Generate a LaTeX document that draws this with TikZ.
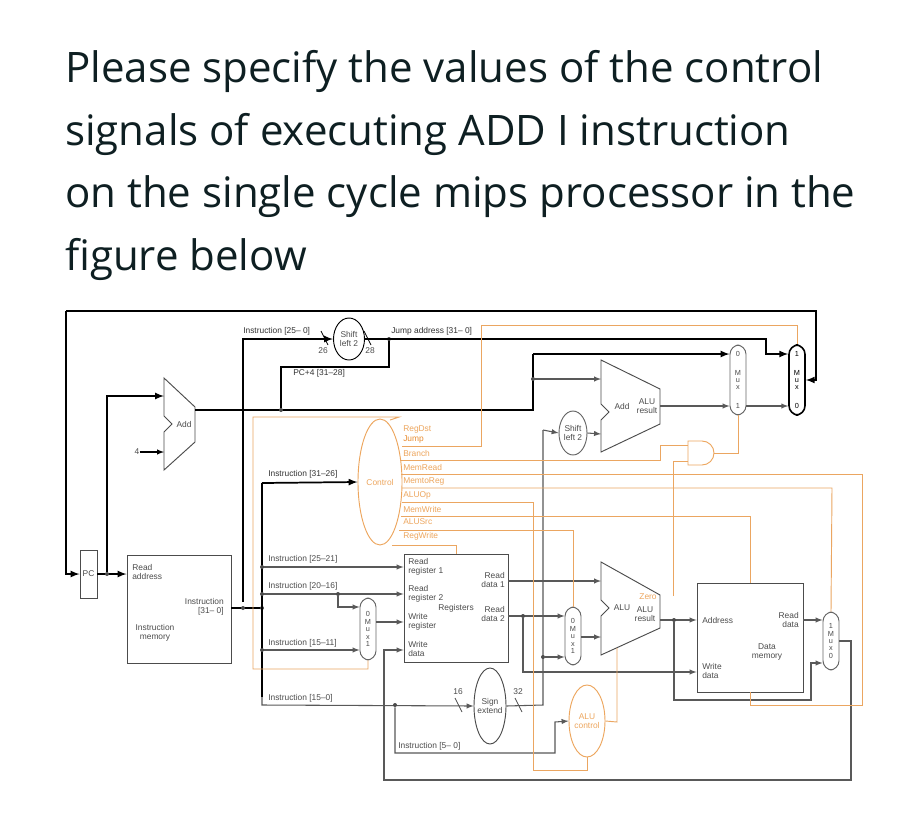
\documentclass[tikz,border=0pt]{standalone}
\usepackage{fontspec}
\usetikzlibrary{shapes.geometric}
\setmainfont{Liberation Sans}
\newfontfamily\titlefont{Open Sans}
\definecolor{titlecol}{HTML}{0E1F22}
\begin{document}
\begin{tikzpicture}[x=0.75pt,y=-0.75pt,
  gl/.style={draw=black!65,line width=0.8pt},
  bl/.style={draw=black,line width=1.3pt},
  ol/.style={draw=orange!55!brown!70,line width=0.7pt},
  ar/.style={-latex},
  lab/.style={font=\fontsize{6.3}{6.8}\selectfont,text=black!70,inner sep=0pt},
  olab/.style={font=\fontsize{6.3}{6.8}\selectfont,text=orange!60!brown!70,inner sep=0pt,anchor=west},
  box/.style={draw=black!70,line width=0.7pt},
  muxbox/.style={draw=black!60,rounded corners=7pt,line width=0.7pt},
  dot/.style={circle,fill=black!70,inner sep=0pt,minimum size=3pt}]
\useasboundingbox (0,0) rectangle (914,818);
\fill[white] (0,0) rectangle (914,818);
% title
\begin{scope}[every node/.style={anchor=base west,inner sep=0pt,font=\titlefont\fontsize{31.5}{34}\selectfont,text=titlecol}]
\node (t1) at (65,82) {Please specify the values of the control};
\node (t2) at (65,145) {signals of executing ADD I instruction};
\node (t3) at (65,207) {on the single cycle mips processor in the};
\node (t4) at (65,270) {figure below};
\end{scope}
% ---- shapes
\node[box,minimum width=17*0.75pt,minimum height=48*0.75pt,inner sep=0pt] (pc) at (88.5,574) {};
\node[lab] at (pc) {PC};
\node[box,minimum width=104*0.75pt,minimum height=108*0.75pt] (imem) at (179,609) {};
\node[lab,anchor=north west,align=left] at (132,564) {Read\\address};
\node[lab,align=right,anchor=east] at (224,607) {Instruction\\{}[31-- 0]};
\node[lab,align=center] at (155,633) {Instruction\\memory};
\draw[box] (164,378) -- (195,407) -- (195,442) -- (164,470) -- (164,432) -- (172,424) -- (164,416) -- cycle;
\node[lab] (addpc) at (184,424) {Add};
\node[lab] (four) at (137,452) {4};
\draw[gl,draw=black,ar] (four) -- (164,452);
\node[draw=black,line width=0.7pt,ellipse,minimum width=31*0.75pt,minimum height=42*0.75pt,inner sep=0pt] (sl1) at (349,339) {};
\node[lab,align=center] at (sl1) {Shift\\left 2};
\node[draw=orange!60!brown!70,line width=0.7pt,ellipse,minimum width=44*0.75pt,minimum height=126*0.75pt,inner sep=0pt] (ctrl) at (380,482) {};
\node[lab,text=orange!60!brown!70] at (ctrl) {Control};
\node[box,minimum width=104*0.75pt,minimum height=108*0.75pt] (regs) at (456,608) {};
\node[lab,anchor=north west,align=left] at (408,558) {Read\\register 1};
\node[lab,anchor=north west,align=left] at (408,585) {Read\\register 2};
\node[lab,anchor=north west,align=left] at (408,613) {Write\\register};
\node[lab,anchor=north west,align=left] at (408,641) {Write\\data};
\node[lab,anchor=north east,align=right] at (505,572) {Read\\data 1};
\node[lab,anchor=north east,align=right] at (505,606) {Read\\data 2};
\node[lab] at (456,608) {Registers};
\node[draw=black!70,line width=0.7pt,ellipse,minimum width=32*0.75pt,minimum height=76*0.75pt,inner sep=0pt] (sext) at (490,706) {};
\node[lab,align=center] at (sext) {Sign\\extend};
\node[draw=orange!60!brown!70,line width=0.7pt,ellipse,minimum width=36*0.75pt,minimum height=72*0.75pt,inner sep=0pt] (aluc) at (587,721) {};
\node[lab,align=center,text=orange!60!brown!70] at (aluc) {ALU\\control};
\node[draw=black!60,line width=0.7pt,ellipse,minimum width=28*0.75pt,minimum height=44*0.75pt,inner sep=0pt] (sl2) at (573,433) {};
\node[lab,align=center] at (sl2) {Shift\\left 2};
% branch adder
\draw[box] (601,360) -- (660,389) -- (660,424) -- (601,452) -- (601,420) -- (609,412) -- (601,404) -- cycle;
\node[lab] at (622,406) {Add};
\node[lab,align=center] at (647,406) {ALU\\result};
% ALU
\draw[box] (601,562) -- (660,595) -- (660,628) -- (601,655) -- (601,616) -- (609,608) -- (601,600) -- cycle;
\node[lab] at (622,608) {ALU};
\node[lab,align=center] at (645,614) {ALU\\result};
\node[lab,text=orange!60!brown!70] at (648,597) {Zero};
% data memory
\node[box,minimum width=106*0.75pt,minimum height=109*0.75pt] (dmem) at (750,637.5) {};
\node[lab,anchor=west] at (702,620) {Address};
\node[lab,anchor=north east,align=right] at (799,612) {Read\\data};
\node[lab,align=center] at (767,652) {Data\\memory};
\node[lab,anchor=north west,align=left] at (702,663) {Write\\data};
% AND gate
\draw[draw=orange!60!brown!70,line width=0.7pt] (688,441) -- (702,441) arc (-90:90:12) -- (688,465) -- cycle;
\coordinate (andout) at (714,453);
% muxes
\newcommand{\mymux}[5]{% name, cx, cy, h, color
\node[muxbox,draw=#5,minimum width=16*0.75pt,minimum height=#4*0.75pt,inner sep=0pt] (#1) at (#2,#3) {};}
\mymux{mrd}{368}{629}{62}{black!60}
\mymux{mals}{573}{636}{58}{black!60}
\mymux{mmr}{831}{641}{58}{black!60}
\mymux{mb}{738}{380}{70}{black!60}
\node[muxbox,draw=black,line width=1.2pt,minimum width=16*0.75pt,minimum height=70*0.75pt,inner sep=0pt] (mj) at (797,380) {};
\begin{scope}[every node/.style={lab,font=\fontsize{5.5}{5.6}\selectfont}]
\node[align=center] at (mrd) {0\\M\\u\\x\\1};
\node[align=center] at (mals) {0\\M\\u\\x\\1};
\node[align=center] at (mmr) {1\\M\\u\\x\\0};
\node at (738,354) {0};\node[align=center] at (738,380) {M\\u\\x};\node at (738,406) {1};
\node[text=black] at (797,354) {1};\node[text=black,align=center] at (797,380) {M\\u\\x};\node[text=black] at (797,406) {0};
\end{scope}
% ---- black datapath
\draw[bl,ar] (pc.east) -- (imem.west|-pc.east);
\draw[bl,ar] (66,311) -- (816,311) -- (816,380) -- (mj.east|-0,380);
\draw[bl,ar] (66,311) -- (66,574) -- (pc.west);
\node[dot] (j1) at (107,574) {};
\draw[bl,ar] (j1) -- (107,396) -- (164,396);
\draw[bl] (195,410) -- (533,410) -- (533,354);
\draw[bl,ar] (533,354) -- (mb.west|-0,354);
\node[dot] (j2) at (281,410) {};
\draw[bl] (j2) -- (281,367) -- (389,367) -- (389,339);
\node[dot] (j3) at (389,339) {};
\draw[bl,ar] (sl1.east) -- (766,339) -- (766,354) -- (mj.west|-0,354);
\draw[bl,ar] (243,602) -- (243,339) -- (sl1.west);
\draw[bl] (imem.east|-0,608) -- (262,608);
\node[dot] at (243,608) {};
\node[dot] at (262,608) {};
\draw[bl] (262,697) -- (262,483);
\draw[bl,ar] (262,483) -- (ctrl.west);
\draw[black,line width=0.6pt] (321,331) -- (328,345) (364,331) -- (371,345);
\node[lab] at (323,351) {26};\node[lab] at (370,351) {28};
\node[lab,anchor=south west,text=black!80] at (243,336) {Instruction [25-- 0]};
\node[lab,anchor=south west,text=black!80] at (391,336) {Jump address [31-- 0]};
\node[lab,anchor=south west,text=black!80] at (293,378) {PC+4 [31--28]};
\node[lab,anchor=south west,text=black!80] at (268,479) {Instruction [31--26]};
% ---- gray datapath
\node[dot] at (533,379) {};
\draw[gl,ar] (533,379) -- (601,379);
\draw[gl,ar] (sl2.east) -- (601,434);
\draw[gl,ar] (660,406) -- (mb.west|-0,406);
\draw[gl,ar] (mb.east|-0,406) -- (mj.west|-0,406);
\draw[gl,ar] (262,567) -- (regs.west|-0,567);
\draw[gl,ar] (262,594) -- (regs.west|-0,594);
\node[dot] at (262,567) {};\node[dot] at (262,594) {};
\node[dot] (j4) at (338,594) {};
\draw[gl,ar] (j4) -- (338,607) -- (mrd.west|-0,607);
\draw[gl,ar] (262,650) -- (mrd.west|-0,650);
\node[dot] at (262,650) {};
\draw[gl,ar] (mrd.east|-0,622) -- (regs.west|-0,622);
\draw[gl,ar] (262,697) -- (262,705) -- (sext.west);
\node[lab,anchor=south west] at (268,564) {Instruction [25--21]};
\node[lab,anchor=south west] at (268,591) {Instruction [20--16]};
\node[lab,anchor=south west] at (268,647) {Instruction [15--11]};
\node[lab,anchor=south west] at (268,702) {Instruction [15--0]};
\draw[black!70,line width=0.6pt] (455,698) -- (462,712) (515,698) -- (522,712);
\node[lab] at (458,692) {16};\node[lab] at (518,692) {32};
\node[dot] (j5) at (395,705) {};
\draw[gl,ar] (j5) -- (395,753) -- (555,753) -- (555,722) -- (aluc.west);
\node[lab,anchor=south west] at (398,750) {Instruction [5-- 0]};
\draw[gl] (sext.east) -- (543,705) -- (543,430);
\draw[gl,ar] (543,430) -- (sl2.west);
\node[dot] (j6) at (543,657) {};
\draw[gl,ar] (j6) -- (mals.west|-0,657);
\draw[gl,ar] (regs.east|-0,581) -- (601,581);
\draw[gl,ar] (regs.east|-0,616) -- (mals.west|-0,616);
\node[dot] (j7) at (523,616) {};
\draw[gl,ar] (j7) -- (523,672) -- (dmem.west|-0,672);
\draw[gl,ar] (mals.east|-0,637) -- (601,637);
\draw[gl,ar] (660,620) -- (dmem.west|-0,620);
\node[dot] (j8) at (674,620) {};
\draw[gl,ar] (j8) -- (674,700) -- (811,700) -- (811,663) -- (mmr.west|-0,663);
\draw[gl,ar] (dmem.east|-0,620) -- (mmr.west|-0,620);
\draw[gl,ar] (mmr.east|-0,641) -- (851,641) -- (851,780) -- (384,780) -- (384,650) -- (regs.west|-0,650);
% ---- orange control
\begin{scope}[every node/.style={olab}]
\node at (403,429) {RegDst};\node[text=orange!60!brown!90] at (403,439) {Jump};\node at (403,453) {Branch};
\node at (403,467) {MemRead};\node at (403,481) {MemtoReg};\node at (403,495) {ALUOp};
\node at (403,509) {MemWrite};\node at (403,522) {ALUSrc};\node at (403,536) {RegWrite};
\end{scope}
\draw[ol] (390,420) -- (399,417) -- (253,417) -- (253,669) -- (368,669) -- (mrd.south);
\draw[ol] (ctrl.east|-0,446) -- (481,446) -- (481,325) -- (797,325) -- (mj.north);
\draw[ol] (401,460) -- (660,460) -- (660,445) -- (688,445);
\draw[ol] (673,596) -- (673,461) -- (688,461);
\draw[ol] (andout) -- (738,453) -- (mb.south);
\draw[ol] (401,474) -- (862,474) -- (862,705) -- (750,705) -- (dmem.south);
\draw[ol] (402,488) -- (832,488) -- (mmr.north);
\draw[ol] (402,502) -- (533,502) -- (533,770) -- (587,770) -- (aluc.south);
\draw[ol] (aluc.east) -- (617,722) -- (617,648);
\draw[ol] (401,516) -- (750,516) -- (dmem.north);
\draw[ol] (399,530) -- (573,530) -- (mals.north);
\draw[ol] (392,545) -- (456,545) -- (regs.north);
\end{tikzpicture}
\end{document}
